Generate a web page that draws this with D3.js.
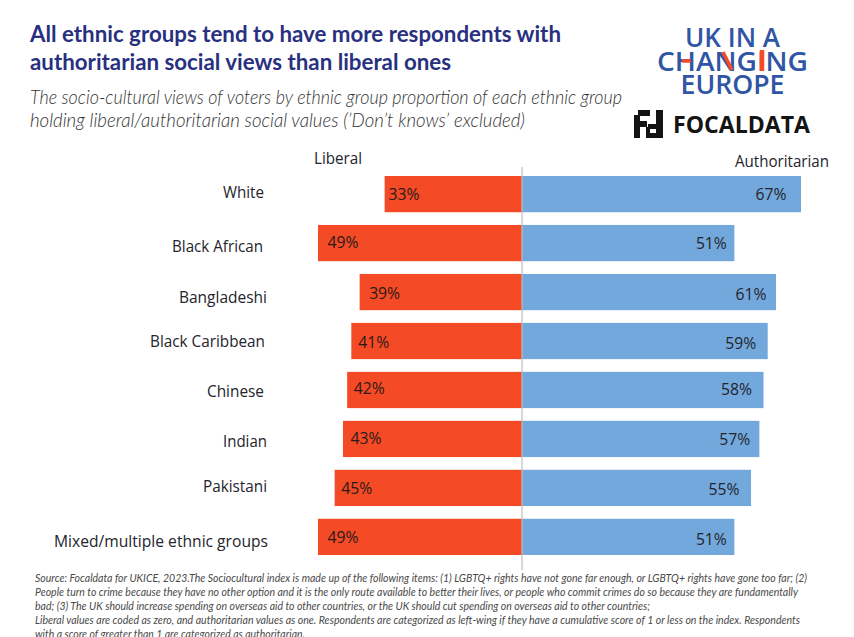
<!DOCTYPE html>
<html>
<head>
<meta charset="utf-8">
<script src="https://cdn.jsdelivr.net/npm/d3@7"></script>
<style>
html,body{margin:0;padding:0;background:#fff;overflow:hidden}
svg{display:block}
text{font-family:Lato,"Open Sans",sans-serif}
.body-text{font-family:"Open Sans",Lato,sans-serif}
</style>
</head>
<body>
<div id="chart"></div>
<script>
// Survey shares by ethnic group
const groups = ["White","Black African","Bangladeshi","Black Caribbean","Chinese","Indian","Pakistani","Mixed/multiple ethnic groups"];
const liberal = [33,49,39,41,42,43,45,49];
const authoritarian = [67,51,61,59,58,57,55,51];

const titleLines = ["All ethnic groups tend to have more respondents with","authoritarian social views than liberal ones"];
const subtitleLines = ["The socio-cultural views of voters by ethnic group proportion of each ethnic group","holding liberal/authoritarian social values (\u2019Don\u2019t knows\u2019 excluded)"];
const sourceLines = [
 "Source: Focaldata for UKICE, 2023.The Sociocultural index is made up of the following items: (1) LGBTQ+ rights have not gone far enough, or LGBTQ+ rights have gone too far; (2)",
 "People turn to crime because they have no other option and it is the only route available to better their lives, or people who commit crimes do so because they are fundamentally",
 "bad; (3) The UK should increase spending on overseas aid to other countries, or the UK should cut spending on overseas aid to other countries;",
 "Liberal values are coded as zero, and authoritarian values as one.  Respondents are categorized as left-wing if they have a cumulative score of 1 or less on the index. Respondents",
 "with a score of greater than 1 are categorized as authoritarian."
];
const sourceWidths = [772,763,615,765,270];

// Hand-set placement of the loosely aligned row text
const groupLeft = [223,172,179,150,207,223,203,54];
const groupRight = [264,263,267,265,264,267,267,268];
const groupBaseline = [198,252,303,347,397,447,492,547];
const libInset = [19.5,25,25,22.5,22,23,22,25];
const authInset = [30,23,25,27,27,24.5,27,23];
const libDrop = [6,5,7,7,4,5,6,6];
const authDrop = [6,6,8,8,5,6,7,8];

const W = 854, H = 637;
const svg = d3.select("#chart").append("svg").attr("width",W).attr("height",H);

const x = d3.scaleLinear().domain([-49,67]).range([318,801]);
const y = d3.scaleBand().domain(groups).range([176,555]).paddingInner(0.26);
const ORANGE = "#f44a25", BLUE = "#73a8dc", NAVY = "#28307f", INK = "#24242c";

// Title block
svg.append("g").selectAll("text").data(titleLines).join("text")
  .attr("x",30).attr("y",(d,i)=>41.5+i*28)
  .attr("font-size",23).attr("font-weight",700).attr("fill",NAVY)
  .attr("textLength",(d,i)=>[531,421][i]).attr("lengthAdjust","spacingAndGlyphs").text(d=>d);
svg.append("g").selectAll("text").data(subtitleLines).join("text")
  .attr("x",30).attr("y",(d,i)=>104+i*23)
  .attr("font-size",20).attr("font-style","italic").attr("font-weight",300).attr("fill","#333333")
  .attr("textLength",(d,i)=>[592,495][i]).attr("lengthAdjust","spacingAndGlyphs").text(d=>d);

// Diverging bars
const rows = groups.map((g,i)=>({g,i,l:liberal[i],a:authoritarian[i]}));
svg.append("g").selectAll("rect").data(rows).join("rect")
  .attr("x",d=>x(-d.l)).attr("y",d=>y(d.g)).attr("width",d=>x(0)-x(-d.l)).attr("height",y.bandwidth()).attr("fill",ORANGE);
svg.append("g").selectAll("rect").data(rows).join("rect")
  .attr("x",x(0)).attr("y",d=>y(d.g)).attr("width",d=>x(d.a)-x(0)).attr("height",y.bandwidth()).attr("fill",BLUE);

// Centre line
svg.append("line").attr("x1",x(0)).attr("x2",x(0)).attr("y1",167).attr("y2",570)
  .attr("stroke","#bdbdbd").attr("stroke-width",1.2);

const squeezed = (sel,w)=>sel.attr("textLength",w).attr("lengthAdjust","spacingAndGlyphs");

// Side headings
svg.append("text").attr("class","body-text").attr("x",314).attr("y",164).attr("font-size",16).attr("fill",INK)
  .call(squeezed,48).text("Liberal");
svg.append("text").attr("class","body-text").attr("x",735).attr("y",167).attr("font-size",16).attr("fill",INK)
  .call(squeezed,94).text("Authoritarian");

// Row labels
svg.append("g").selectAll("text").data(rows).join("text").attr("class","body-text")
  .attr("x",d=>groupLeft[d.i]).attr("y",d=>groupBaseline[d.i])
  .attr("font-size",16.5).attr("fill",INK)
  .attr("textLength",d=>groupRight[d.i]-groupLeft[d.i]).attr("lengthAdjust","spacingAndGlyphs").text(d=>d.g);

// Value labels
const mid = d=>y(d.g)+y.bandwidth()/2;
svg.append("g").selectAll("text").data(rows).join("text").attr("class","body-text")
  .attr("x",d=>x(-d.l)+libInset[d.i]-15.5).attr("y",d=>mid(d)+libDrop[d.i])
  .attr("font-size",16.5).attr("fill","#2a1a1a").call(squeezed,31).text(d=>d.l+"%");
svg.append("g").selectAll("text").data(rows).join("text").attr("class","body-text")
  .attr("x",d=>x(d.a)-authInset[d.i]-15.5).attr("y",d=>mid(d)+authDrop[d.i])
  .attr("font-size",16.5).attr("fill",INK).call(squeezed,31).text(d=>d.a+"%");

// Source note, running off the bottom edge
svg.append("g").selectAll("text").data(sourceLines).join("text")
  .attr("x",35).attr("y",(d,i)=>582+i*14.1)
  .attr("font-size",11).attr("font-style","italic").attr("fill","#4a4a4a")
  .attr("textLength",(d,i)=>sourceWidths[i]).attr("lengthAdjust","spacingAndGlyphs").text(d=>d);

// UK in a Changing Europe wordmark
const wordmark = ["UK IN A","CHANGING","EUROPE"];
const wordmarkWidths = [95,151,104];
svg.append("g").selectAll("text").data(wordmark).join("text").attr("class","body-text")
  .attr("x",(d,i)=>732.5-wordmarkWidths[i]/2).attr("y",(d,i)=>[47,71,94][i])
  .attr("font-size",27).attr("font-weight",600).attr("fill","#2f55a4")
  .attr("textLength",(d,i)=>wordmarkWidths[i]).attr("lengthAdjust","spacingAndGlyphs").text(d=>d);

// Red accents across the wordmark letters
const accent = svg.append("g").attr("stroke",ORANGE).attr("fill","none");
accent.append("line").attr("x1",682).attr("x2",691).attr("y1",61).attr("y2",61).attr("stroke-width",3.5);
accent.append("line").attr("x1",723).attr("x2",732).attr("y1",52).attr("y2",70).attr("stroke-width",3.5);
accent.append("line").attr("x1",762).attr("x2",762).attr("y1",50).attr("y2",71).attr("stroke-width",4.5);

// Focaldata mark and name
const markBlocks = [[634,115,6,23],[638,110,12,6],[640,121,7,6],[656,110,7,28],[648,124,8,5],[646,127,4,11],[650,133,6,5]];
svg.append("g").attr("fill","#141414").selectAll("rect").data(markBlocks).join("rect")
  .attr("x",d=>d[0]).attr("y",d=>d[1]).attr("width",d=>d[2]).attr("height",d=>d[3]);
svg.append("text").attr("class","body-text").attr("x",673).attr("y",133).attr("font-size",22.5).attr("font-weight",700)
  .attr("fill","#141414").call(squeezed,137).text("FOCALDATA");
</script>
</body>
</html>
